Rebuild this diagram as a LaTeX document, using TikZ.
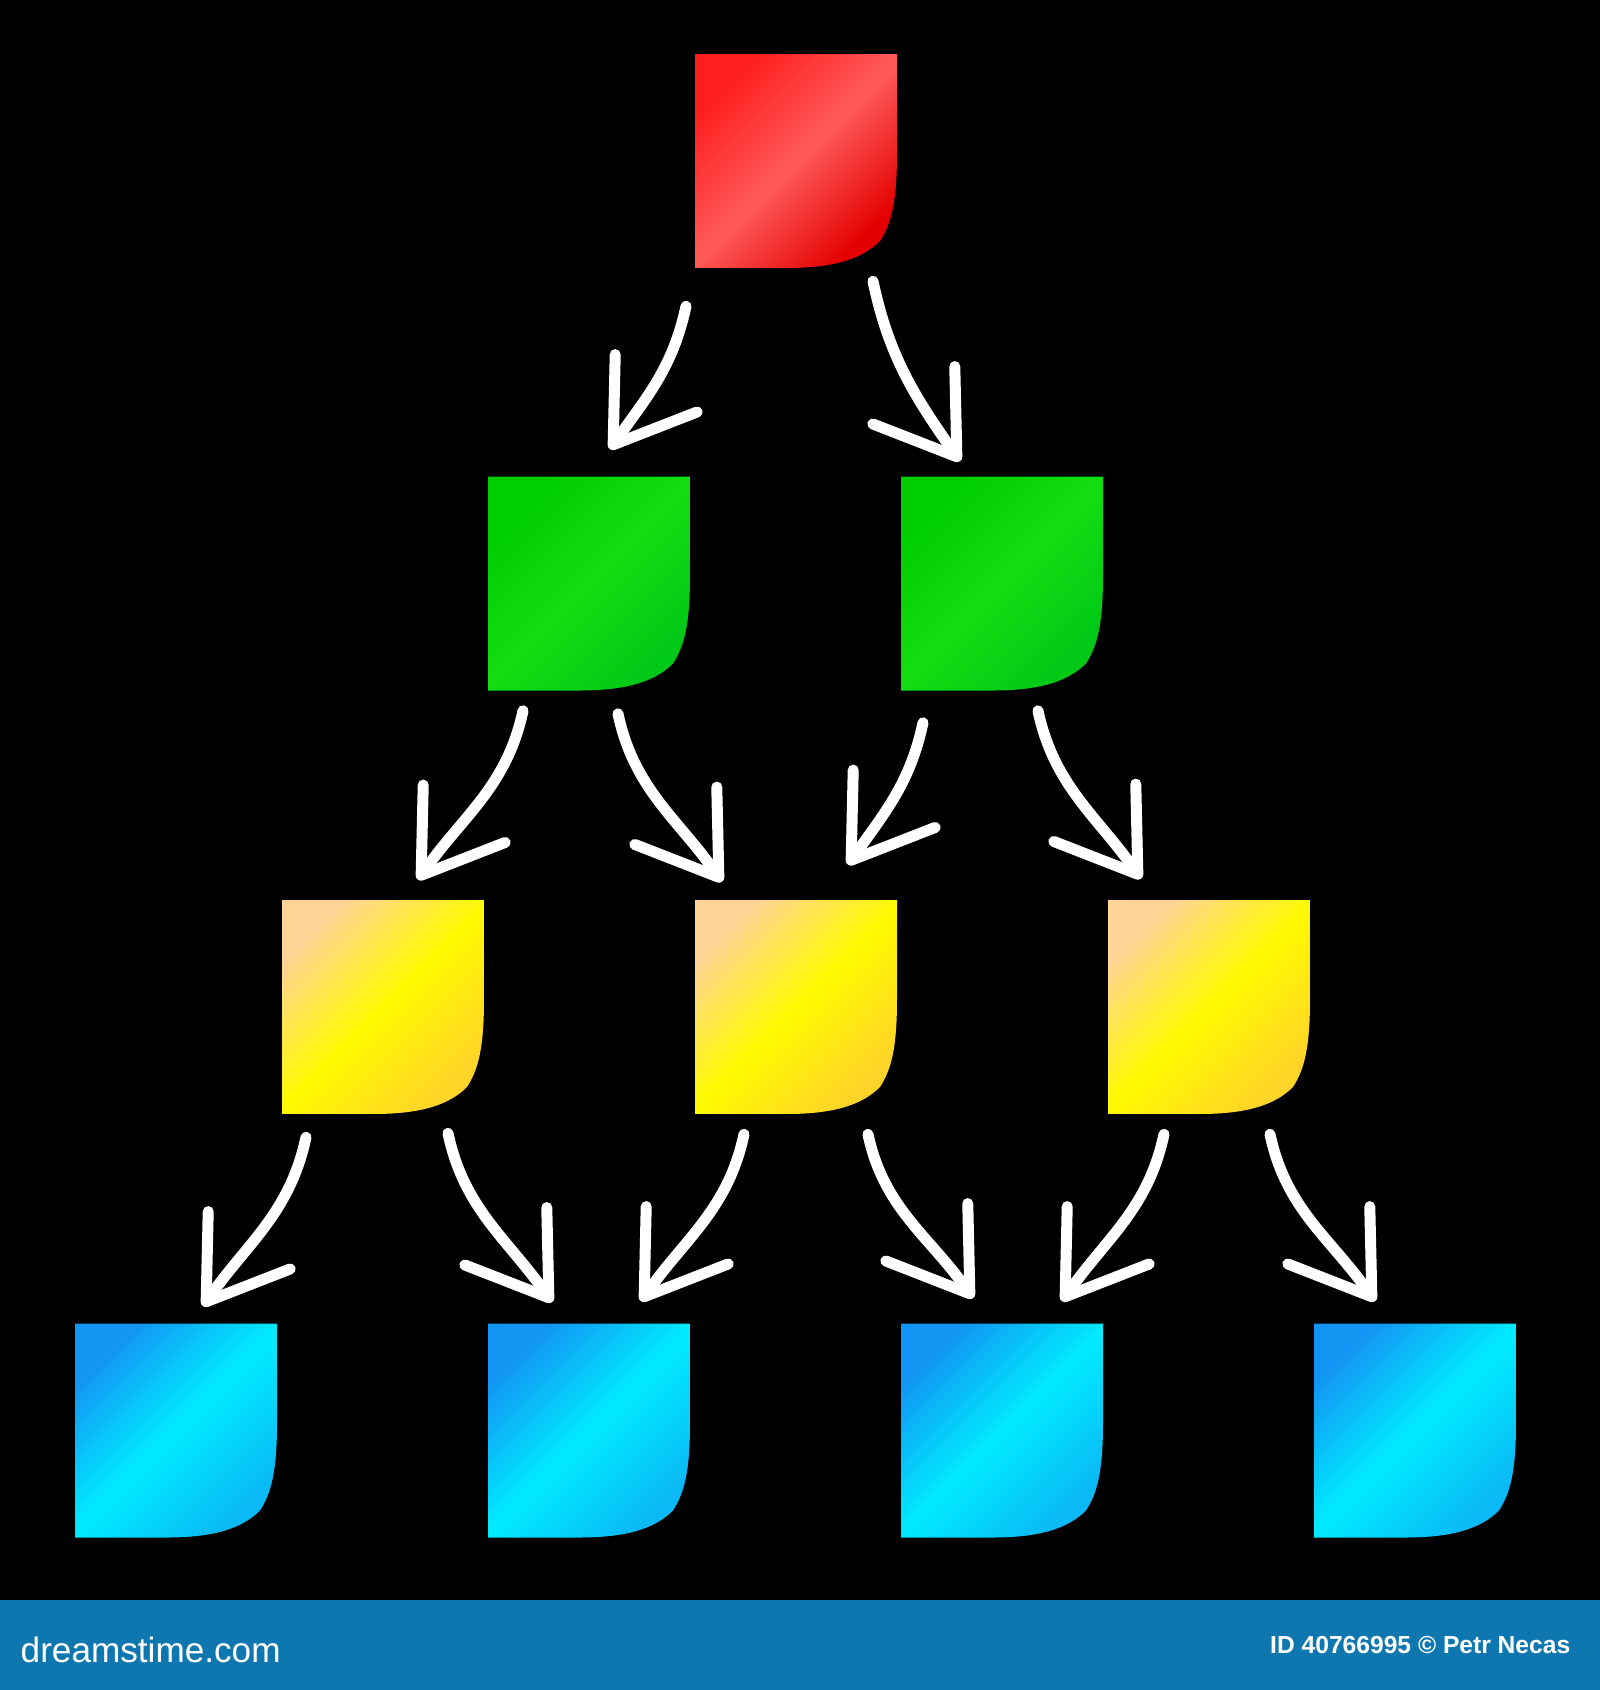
\documentclass[tikz,border=0pt]{standalone}
\usepackage{fontspec}
\usetikzlibrary{arrows.meta,calc}
\newfontfamily\barfont{Liberation Sans}

\definecolor{rda}{RGB}{255,30,30}
\definecolor{rdb}{RGB}{255,90,90}
\definecolor{rdc}{RGB}{228,0,0}
\definecolor{gna}{RGB}{0,205,0}
\definecolor{gnb}{RGB}{18,222,18}
\definecolor{gnc}{RGB}{0,200,22}
\definecolor{yla}{RGB}{255,212,150}
\definecolor{ylb}{RGB}{255,250,0}
\definecolor{ylc}{RGB}{255,212,40}
\definecolor{bla}{RGB}{18,150,243}
\definecolor{blb}{RGB}{0,235,255}
\definecolor{blc}{RGB}{10,185,245}
\definecolor{barblue}{RGB}{15,119,175}

\begin{document}
\begin{tikzpicture}[x=0.01cm,y=0.01cm]
	\tikzstyle{note}=[minimum width=2.02cm,minimum height=2.13cm,inner sep=0pt,
		path picture={\begin{scope}[shift={(path picture bounding box.center)}]
			\shade[top color=#1a,bottom color=#1c,middle color=#1b,shading angle=45]
			(-101,107) -- (101,107) -- (101,8) .. controls (101,-42) and (95,-63) .. (84,-80)
			.. controls (66,-98) and (38,-107) .. (-10,-107) -- (-101,-107) -- cycle;
		\end{scope}}]
	\tikzstyle{flow}=[draw=white,line width=1.1mm,line cap=round,
		-{Straight Barb[length=7.5mm,width=10mm,round]}]
	\tikzstyle{down left}=[out=-102,in=55]
	\tikzstyle{down right}=[out=-78,in=125]

	% background and bottom bar
	\fill[black] (0,0) rectangle (1600,-1690);
	\fill[barblue] (0,-1600) rectangle (1600,-1690);

	% notes
	\node[note=rd] (r) at (796,-161) {};
	\node[note=gn] (g1) at (589,-583.5) {};
	\node[note=gn] (g2) at (1002,-583.5) {};
	\node[note=yl] (y1) at (383,-1007) {};
	\node[note=yl] (y2) at (796,-1007) {};
	\node[note=yl] (y3) at (1209,-1007) {};
	\node[note=bl] (b1) at (176,-1430.5) {};
	\node[note=bl] (b2) at (589,-1430.5) {};
	\node[note=bl] (b3) at (1002,-1430.5) {};
	\node[note=bl] (b4) at (1415,-1430.5) {};

	% arrows
	\draw[flow] ($(r.south)+(-110,-38)$) to[down left] ($(g1.north)+(21,27)$);
	\draw[flow] ($(r.south)+(77,-13)$) to[down right] ($(g2.north)+(-42,15)$);
	\draw[flow] ($(g1.south)+(-66,-20)$) to[down left] ($(y1.north)+(35,20)$);
	\draw[flow] ($(g1.south)+(29,-23)$) to[down right] ($(y2.north)+(-74,18)$);
	\draw[flow] ($(g2.south)+(-79,-32)$) to[down left] ($(y2.north)+(52,35)$);
	\draw[flow] ($(g2.south)+(36,-20)$) to[down right] ($(y3.north)+(-68,21)$);
	\draw[flow] ($(y1.south)+(-77,-23)$) to[down left] ($(b1.north)+(27,17)$);
	\draw[flow] ($(y1.south)+(65,-19)$) to[down right] ($(b2.north)+(-37,21)$);
	\draw[flow] ($(y2.south)+(-52,-20)$) to[down left] ($(b2.north)+(52,22)$);
	\draw[flow] ($(y2.south)+(72,-20)$) to[down right] ($(b3.north)+(-29,25)$);
	\draw[flow] ($(y3.south)+(-45,-20)$) to[down left] ($(b3.north)+(60,22)$);
	\draw[flow] ($(y3.south)+(61,-20)$) to[down right] ($(b4.north)+(-40,22)$);

	% bar texts
	\node[anchor=base west,inner sep=0pt,text=white,font=\barfont\fontsize{10}{12}\selectfont] (logo) at (20,-1662) {dreamstime.com};
	\node[anchor=base east,inner sep=0pt,text=white,font=\barfont\bfseries\fontsize{7}{9}\selectfont] (credit) at (1571,-1653) {ID 40766995 © Petr Necas};
\end{tikzpicture}
\end{document}
